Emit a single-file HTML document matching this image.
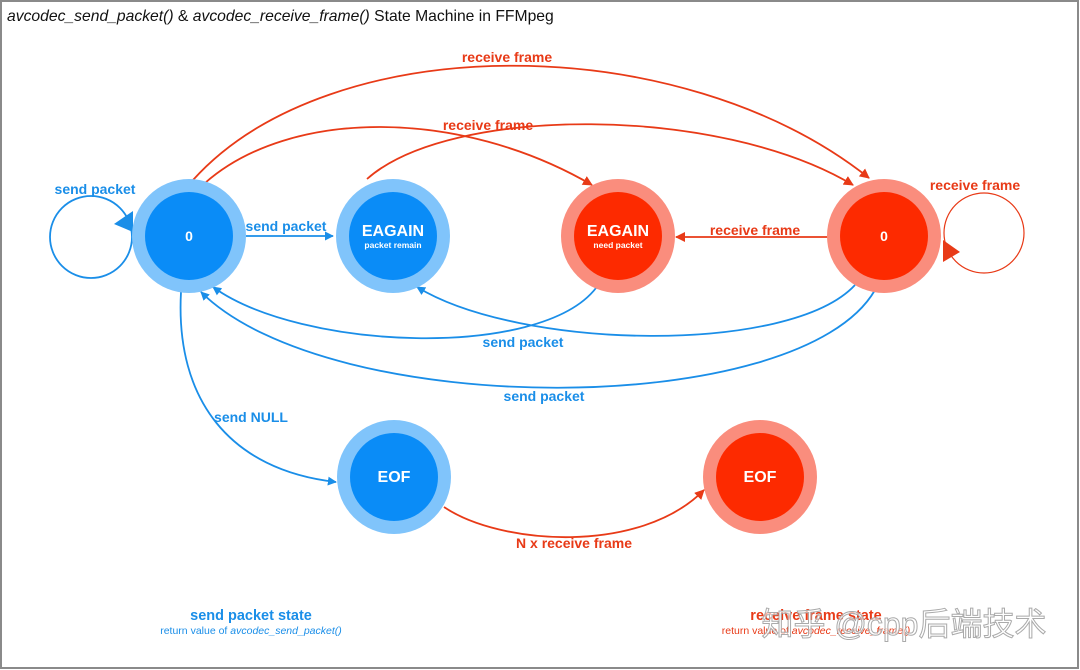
<!DOCTYPE html>
<html><head><meta charset="utf-8"><style>
html,body{margin:0;padding:0;background:#fff}
svg{display:block}
text{font-family:"Liberation Sans",Helvetica,Arial,sans-serif}
.b{fill:#1a8ee8;font-weight:bold;font-size:14px}
.r{fill:#e83a17;font-weight:bold;font-size:14px}
.w{fill:#fff;font-weight:bold}
</style></head><body>
<svg width="1080" height="670" viewBox="0 0 1080 670" xmlns="http://www.w3.org/2000/svg">
<defs>
<marker id="ab" viewBox="0 0 10 10" refX="9" refY="5" markerWidth="9" markerHeight="9" markerUnits="userSpaceOnUse" orient="auto"><path d="M0,0L10,5L0,10z" fill="#1a8ee8"/></marker>
<marker id="ar" viewBox="0 0 10 10" refX="9" refY="5" markerWidth="10" markerHeight="10" markerUnits="userSpaceOnUse" orient="auto"><path d="M0,0L10,5L0,10z" fill="#e83a17"/></marker>
</defs>
<rect x="1" y="1" width="1077" height="667" fill="#fff" stroke="#8a8a8a" stroke-width="2"/>
<text x="7" y="21" font-size="15.7" fill="#111"><tspan font-style="italic">avcodec_send_packet()</tspan> &amp; <tspan font-style="italic">avcodec_receive_frame()</tspan> State Machine in FFMpeg</text>

<g fill="none" stroke="#e83a17" stroke-width="1.8">
<path d="M193,180 C330,28 680,28 869,178" marker-end="url(#ar)"/>
<path d="M205,183 C290,108 460,108 592,185" marker-end="url(#ar)"/>
<path d="M367,179 C450,105 720,105 853,185" marker-end="url(#ar)"/>
<path d="M829,237 L676,237" marker-end="url(#ar)"/>
<path d="M444,507 C500,545 640,555 704,490" marker-end="url(#ar)"/>
<circle cx="984" cy="233" r="40" stroke-width="1.2"/>
</g>
<path d="M943,240 L960,252 L943,262 z" fill="#e83a17"/>

<g fill="none" stroke="#1a8ee8" stroke-width="1.8">
<path d="M246,236 L333,236" marker-end="url(#ab)"/>
<path d="M596,288 C540,360 300,350 213,287" marker-end="url(#ab)"/>
<path d="M855,285 C790,355 520,350 417,287" marker-end="url(#ab)"/>
<path d="M875,290 C800,420 330,420 201,292" marker-end="url(#ab)"/>
<path d="M181,292 C175,400 230,470 336,482" marker-end="url(#ab)"/>
<circle cx="91" cy="237" r="41"/>
</g>
<path d="M114,224 L133,211 L133,232 z" fill="#1a8ee8"/>

<g>
<circle cx="189" cy="236" r="57" fill="#80c4fb"/><circle cx="189" cy="236" r="44" fill="#0a8cf7"/>
<circle cx="393" cy="236" r="57" fill="#80c4fb"/><circle cx="393" cy="236" r="44" fill="#0a8cf7"/>
<circle cx="618" cy="236" r="57" fill="#fa8d7d"/><circle cx="618" cy="236" r="44" fill="#fd2a00"/>
<circle cx="884" cy="236" r="57" fill="#fa8d7d"/><circle cx="884" cy="236" r="44" fill="#fd2a00"/>
<circle cx="394" cy="477" r="57" fill="#80c4fb"/><circle cx="394" cy="477" r="44" fill="#0a8cf7"/>
<circle cx="760" cy="477" r="57" fill="#fa8d7d"/><circle cx="760" cy="477" r="44" fill="#fd2a00"/>
</g>
<text class="w" x="189" y="241" font-size="14" text-anchor="middle">0</text>
<text class="w" x="393" y="236" font-size="16" text-anchor="middle">EAGAIN</text>
<text class="w" x="393" y="248" font-size="8.5" text-anchor="middle" font-weight="normal">packet remain</text>
<text class="w" x="618" y="236" font-size="16" text-anchor="middle">EAGAIN</text>
<text class="w" x="618" y="248" font-size="8.5" text-anchor="middle" font-weight="normal">need packet</text>
<text class="w" x="884" y="241" font-size="14" text-anchor="middle">0</text>
<text class="w" x="394" y="482" font-size="16" text-anchor="middle">EOF</text>
<text class="w" x="760" y="482" font-size="16" text-anchor="middle">EOF</text>

<text class="r" x="507" y="62" text-anchor="middle">receive frame</text>
<text class="r" x="488" y="130" text-anchor="middle">receive frame</text>
<text class="r" x="975" y="190" text-anchor="middle">receive frame</text>
<text class="r" x="755" y="235" text-anchor="middle">receive frame</text>
<text class="r" x="574" y="548" text-anchor="middle">N x receive frame</text>
<text class="b" x="95" y="194" text-anchor="middle">send packet</text>
<text class="b" x="286" y="231" text-anchor="middle">send packet</text>
<text class="b" x="523" y="347" text-anchor="middle">send packet</text>
<text class="b" x="544" y="401" text-anchor="middle">send packet</text>
<text class="b" x="251" y="422" text-anchor="middle">send NULL</text>

<text x="251" y="620" text-anchor="middle" font-size="14.5" font-weight="bold" fill="#1a8ee8">send packet state</text>
<text x="251" y="634" text-anchor="middle" font-size="10.5" fill="#1a8ee8">return value of <tspan font-style="italic">avcodec_send_packet()</tspan></text>
<text x="816" y="620" text-anchor="middle" font-size="14.5" font-weight="bold" fill="#e83a17">receive frame state</text>
<text x="816" y="634" text-anchor="middle" font-size="10.5" fill="#e83a17">return value of <tspan font-style="italic">avcodec_receive_frame()</tspan></text>
<text x="904" y="635" text-anchor="middle" font-size="32" fill="#fff" fill-opacity="0.6" stroke="#aaa" stroke-width="1" font-family="'Liberation Sans','Noto Sans CJK SC',sans-serif">知乎 @cpp后端技术</text>
</svg>
</body></html>
